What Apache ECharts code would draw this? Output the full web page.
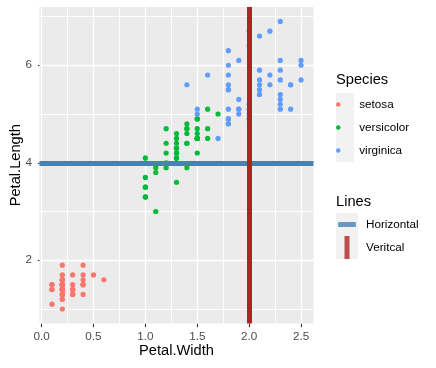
<!DOCTYPE html>
<html>
<head>
<meta charset="utf-8">
<script src="https://cdn.jsdelivr.net/npm/echarts@6/dist/echarts.min.js"></script>
<style>html,body{margin:0;padding:0;background:#fff}#c{width:436px;height:368px}</style>
</head>
<body>
<div id="c"></div>
<script>
// iris: Petal.Width (x) vs Petal.Length (y)
const speciesNames = ['setosa', 'versicolor', 'virginica'];
const setosaWidth = [0.2,0.2,0.2,0.2,0.2,0.4,0.3,0.2,0.2,0.1,0.2,0.2,0.1,0.1,0.2,0.4,0.4,0.3,0.3,0.3,0.2,0.4,0.2,0.5,0.2,0.2,0.4,0.2,0.2,0.2,0.2,0.4,0.1,0.2,0.2,0.2,0.2,0.1,0.2,0.2,0.3,0.3,0.2,0.6,0.4,0.3,0.2,0.2,0.2,0.2];
const setosaLength = [1.4,1.4,1.3,1.5,1.4,1.7,1.4,1.5,1.4,1.5,1.5,1.6,1.4,1.1,1.2,1.5,1.3,1.4,1.7,1.5,1.7,1.5,1.0,1.7,1.9,1.6,1.6,1.5,1.4,1.6,1.6,1.5,1.5,1.4,1.5,1.2,1.3,1.4,1.3,1.5,1.3,1.3,1.3,1.6,1.9,1.4,1.6,1.4,1.5,1.4];
const versicolorWidth = [1.4,1.5,1.5,1.3,1.5,1.3,1.6,1.0,1.3,1.4,1.0,1.5,1.0,1.4,1.3,1.4,1.5,1.0,1.5,1.1,1.8,1.3,1.5,1.2,1.3,1.4,1.4,1.7,1.5,1.0,1.1,1.0,1.2,1.6,1.5,1.6,1.5,1.3,1.3,1.3,1.2,1.4,1.2,1.0,1.3,1.2,1.3,1.3,1.1,1.3];
const versicolorLength = [4.7,4.5,4.9,4.0,4.6,4.5,4.7,3.3,4.6,3.9,3.5,4.2,4.0,4.7,3.6,4.4,4.5,4.1,4.5,3.9,4.8,4.0,4.9,4.7,4.3,4.4,4.8,5.0,4.5,3.5,3.8,3.7,3.9,5.1,4.5,4.5,4.7,4.4,4.1,4.0,4.4,4.6,4.0,3.3,4.2,4.2,4.2,4.3,3.0,4.1];
const virginicaWidth = [2.5,1.9,2.1,1.8,2.2,2.1,1.7,1.8,1.8,2.5,2.0,1.9,2.1,2.0,2.4,2.3,1.8,2.2,2.3,1.5,2.3,2.0,2.0,1.8,2.1,1.8,1.8,1.8,2.1,1.6,1.9,2.0,2.2,1.5,1.4,2.3,2.4,1.8,2.1,2.1,2.4,2.3,1.9,2.3,2.5,2.3,1.9,2.0,2.3,1.8];
const virginicaLength = [6.0,5.1,5.9,5.6,5.8,6.6,4.5,6.3,5.8,6.1,5.1,5.3,5.5,5.0,5.1,5.3,5.5,6.7,6.9,5.0,5.7,4.9,6.7,4.9,5.7,6.0,4.8,4.9,5.6,5.8,6.1,6.4,5.6,5.1,5.6,6.1,5.6,5.5,5.4,5.4,5.6,5.1,5.1,5.9,5.7,5.2,5.0,5.2,5.4,5.1];

const lineNames = ['Horizontal', 'Veritcal'];
const hlineValue = [4];
const vlineValue = [2];

const xTicks = [0, 0.5, 1, 1.5, 2, 2.5];
const xMinorTicks = [0.25, 0.75, 1.25, 1.75, 2.25];
const yTicks = [2, 4, 6];
const yMinorTicks = [1, 3, 5, 7];
const xRange = [-0.02, 2.62];
const yRange = [0.705, 7.195];

const FONT = '"Liberation Sans", Arial, sans-serif';
const speciesColors = ['#F8766D', '#00BA38', '#619CFF'];

function pairs(xs, ys) { return xs.map((x, i) => [x, ys[i]]); }
const speciesData = [pairs(setosaWidth, setosaLength), pairs(versicolorWidth, versicolorLength), pairs(virginicaWidth, virginicaLength)];

const gridLines = [];
xTicks.forEach(v => gridLines.push({ xAxis: v, lineStyle: { width: 1.3 } }));
xMinorTicks.forEach(v => gridLines.push({ xAxis: v, lineStyle: { width: 0.9 } }));
yTicks.forEach(v => gridLines.push({ yAxis: v, lineStyle: { width: 1.3 } }));
yMinorTicks.forEach(v => gridLines.push({ yAxis: v, lineStyle: { width: 0.9 } }));

const series = [{
  type: 'scatter', name: '_grid', data: [], silent: true, z: 1,
  markLine: { silent: true, z: 1, symbol: ['none', 'none'], animation: false,
    label: { show: false }, lineStyle: { color: '#FFFFFF', type: 'solid', opacity: 1 }, data: gridLines }
}];
speciesNames.forEach((n, i) => series.push({
  type: 'scatter', name: n, data: speciesData[i], symbolSize: 5.2, z: 2,
  itemStyle: { color: speciesColors[i], opacity: 1 }, animation: false
}));
series.push({
  type: 'scatter', name: lineNames[0], data: [], z: 3, color: '#4682B4',
  itemStyle: { color: '#4682B4', borderWidth: 0 },
  markLine: { silent: true, z: 3, symbol: ['none', 'none'], animation: false, label: { show: false },
    lineStyle: { color: '#4682B4', width: 5, type: 'solid', opacity: 1 }, data: hlineValue.map(v => ({ yAxis: v })) }
});
series.push({
  type: 'scatter', name: lineNames[1], data: [], z: 4, color: '#B22222',
  itemStyle: { color: '#B22222', borderWidth: 0 },
  markLine: { silent: true, z: 4, symbol: ['none', 'none'], animation: false, label: { show: false },
    lineStyle: { color: '#B22222', width: 5, type: 'solid', opacity: 1 }, data: vlineValue.map(v => ({ xAxis: v })) }
});

const chart = echarts.init(document.getElementById('c'), null, { renderer: 'canvas' });
chart.setOption({
  animation: false,
  textStyle: { fontFamily: FONT },
  grid: { left: 39, top: 7, width: 274.5, height: 316.4, show: true, backgroundColor: '#EBEBEB', borderWidth: 0, containLabel: false },
  title: [
    { text: 'Species', left: 336, top: 72, padding: 0, textStyle: { fontFamily: FONT, fontSize: 14.67, fontWeight: 'normal', color: '#000', lineHeight: 16 } },
    { text: 'Lines', left: 336, top: 193.5, padding: 0, textStyle: { fontFamily: FONT, fontSize: 14.67, fontWeight: 'normal', color: '#000', lineHeight: 16 } }
  ],
  graphic: [
    { type: 'rect', left: 336, top: 93, shape: { width: 18, height: 69 }, style: { fill: '#F2F2F2' }, z: -1, silent: true },
    { type: 'rect', left: 336, top: 213, shape: { width: 22, height: 46 }, style: { fill: '#F2F2F2' }, z: -1, silent: true }
  ],
  legend: [{
    data: speciesNames, orient: 'vertical', left: 336, top: 93, padding: 0, itemGap: 0,
    itemWidth: 18, itemHeight: 4.5, icon: 'circle', selectedMode: false,
    textStyle: { fontFamily: FONT, fontSize: 11.7, color: '#000', lineHeight: 23, padding: [0, 0, 0, 7] }
  }, {
    data: [
      { name: lineNames[0], icon: 'path://M0,0M22,23M2.2,9L19.8,9L19.8,14L2.2,14Z', itemStyle: { borderWidth: 0 } },
      { name: lineNames[1], icon: 'path://M0,0M22,23M8.5,0L13.5,0L13.5,23L8.5,23Z', itemStyle: { borderWidth: 0 } }
    ],
    orient: 'vertical', left: 336, top: 213, padding: 0, itemGap: 0,
    itemWidth: 22, itemHeight: 23, symbolKeepAspect: false, selectedMode: false,
    textStyle: { fontFamily: FONT, fontSize: 11.7, color: '#000', lineHeight: 23, padding: [0, 0, 0, 3] }
  }],
  xAxis: {
    type: 'value', min: xRange[0], max: xRange[1],
    name: 'Petal.Width', nameLocation: 'middle', nameGap: 20.5, nameMoveOverlap: false,
    nameTextStyle: { fontFamily: FONT, fontSize: 14.67, color: '#000' },
    axisLine: { show: false },
    axisTick: { show: true, customValues: xTicks, length: 3.7, lineStyle: { color: '#333333', width: 1.1 } },
    axisLabel: { customValues: xTicks, margin: 7, fontFamily: FONT, fontSize: 11.7, color: '#4D4D4D', formatter: v => v.toFixed(1) },
    splitLine: { show: false }, minorSplitLine: { show: false }
  },
  yAxis: {
    type: 'value', min: yRange[0], max: yRange[1],
    name: 'Petal.Length', nameLocation: 'middle', nameGap: 16.5, nameRotate: 90, nameMoveOverlap: false,
    nameTextStyle: { fontFamily: FONT, fontSize: 14.67, color: '#000' },
    axisLine: { show: false },
    axisTick: { show: true, customValues: yTicks, length: 3.7, lineStyle: { color: '#333333', width: 1.1 } },
    axisLabel: { customValues: yTicks, margin: 7.5, fontFamily: FONT, fontSize: 11.7, color: '#4D4D4D', formatter: v => String(v) },
    splitLine: { show: false }, minorSplitLine: { show: false }
  },
  series: series
});
</script>
</body>
</html>
